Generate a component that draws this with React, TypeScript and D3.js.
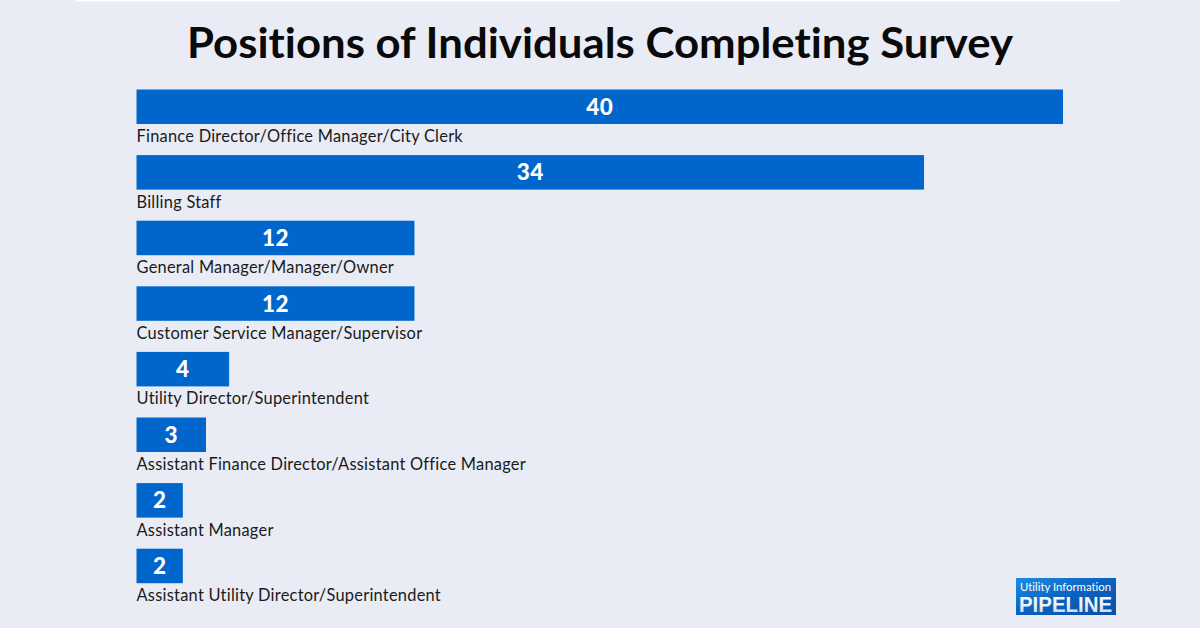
import * as d3 from "d3";

const positions = [
  "Finance Director/Office Manager/City Clerk",
  "Billing Staff",
  "General Manager/Manager/Owner",
  "Customer Service Manager/Supervisor",
  "Utility Director/Superintendent",
  "Assistant Finance Director/Assistant Office Manager",
  "Assistant Manager",
  "Assistant Utility Director/Superintendent",
];
const counts = [40, 34, 12, 12, 4, 3, 2, 2];

const W = 1200;
const H = 628;
const TOP = 89.5;
const STEP = 65.6;
const PAD = 0.474;
const FONT = "Lato, 'Open Sans', sans-serif";

export default function App() {
  const y = d3
    .scaleBand<string>()
    .domain(positions)
    .range([TOP, TOP + (positions.length - PAD) * STEP])
    .paddingInner(PAD)
    .paddingOuter(0);

  const x = d3.scaleLinear().domain([0, 40]).range([136.5, 1063]);

  return (
    <svg
      width={W}
      height={H}
      viewBox={`0 0 ${W} ${H}`}
      style={{ position: "absolute", left: 0, top: 0, fontVariantLigatures: "none" }}
    >
      <defs>
        <linearGradient id="logoGrad" x1="0" y1="0" x2="1" y2="1">
          <stop offset="0" stopColor="#1c8ce0" />
          <stop offset="0.5" stopColor="#0a62c0" />
          <stop offset="1" stopColor="#0b4fa6" />
        </linearGradient>
        <linearGradient id="pipeGrad" x1="0" y1="0" x2="0" y2="1">
          <stop offset="0" stopColor="#ffffff" />
          <stop offset="0.6" stopColor="#e8eef6" />
          <stop offset="1" stopColor="#b9c6d6" />
        </linearGradient>
      </defs>
      <rect width={W} height={H} fill="#e9ecf5" />
      <rect x={76} y={0} width={1044} height={1.5} fill="#ffffff" />

      <text
        x={600}
        y={58}
        textAnchor="middle"
        fontFamily={FONT}
        fontWeight={700}
        fontSize={42}
        fill="#0a0a0a"
        textLength={826}
        lengthAdjust="spacingAndGlyphs"
      >
        Positions of Individuals Completing Survey
      </text>

      {positions.map((p, i) => {
        const by = y(p)!;
        const bw = x(counts[i]) - x(0);
        return (
          <g key={p}>
            <rect x={x(0)} y={by} width={bw} height={y.bandwidth()} fill="#0066cc" />
            <text
              x={x(0) + bw / 2}
              y={by + y.bandwidth() / 2 + 8}
              textAnchor="middle"
              fontFamily={FONT}
              fontWeight={900}
              fontSize={22.5}
              fill="#ffffff"
              letterSpacing={0.5}
            >
              {counts[i]}
            </text>
            <text
              x={x(0)}
              y={by + y.bandwidth() + 18}
              fontFamily={FONT}
              fontSize={16.4}
              fill="#1a1a1a"
              letterSpacing={0.25}
            >
              {p}
            </text>
          </g>
        );
      })}

      <g transform="translate(1016,578)">
        <rect width={100} height={37} fill="url(#logoGrad)" />
        <text x={4} y={12.5} fontFamily={FONT} fontSize={12} fill="#ffffff" textLength={91} lengthAdjust="spacingAndGlyphs">
          Utility Information
        </text>
        <text
          x={3}
          y={34}
          fontFamily="'Liberation Sans', Arial, sans-serif"
          fontWeight={700}
          fontSize={22}
          fill="url(#pipeGrad)"
          textLength={93}
          lengthAdjust="spacingAndGlyphs"
        >
          PIPELINE
        </text>
      </g>
    </svg>
  );
}
